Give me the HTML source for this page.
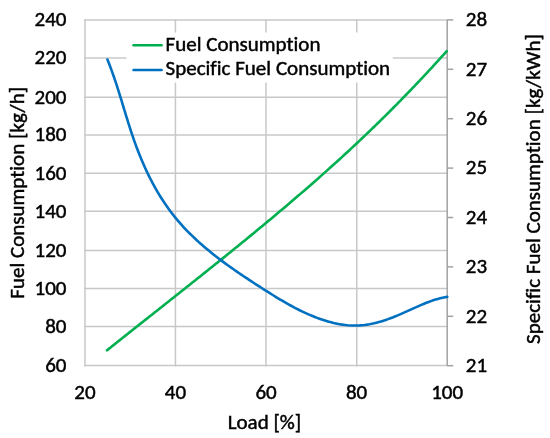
<!DOCTYPE html>
<html><head><meta charset="utf-8"><style>
html,body{margin:0;padding:0;background:#fff;overflow:hidden;}
svg{display:block;}
text{font-family:Carlito,"Liberation Sans",sans-serif;font-size:21px;fill:#000;stroke:#000;stroke-width:0.45px;font-variant-ligatures:none;font-feature-settings:'liga' 0,'clig' 0;}
</style></head><body>
<svg width="550" height="438" viewBox="0 0 550 438">
<rect width="550" height="438" fill="#fff"/>
<g stroke="#c8c8c8" stroke-width="1.5" fill="none" stroke-linecap="square">
<line x1="84.90" y1="19.90" x2="447.20" y2="19.90"/>
<line x1="84.90" y1="57.97" x2="447.20" y2="57.97"/>
<line x1="84.90" y1="97.25" x2="447.20" y2="97.25"/>
<line x1="84.90" y1="134.97" x2="447.20" y2="134.97"/>
<line x1="84.90" y1="173.25" x2="447.20" y2="173.25"/>
<line x1="84.90" y1="211.30" x2="447.20" y2="211.30"/>
<line x1="84.90" y1="250.44" x2="447.20" y2="250.44"/>
<line x1="84.90" y1="288.60" x2="447.20" y2="288.60"/>
<line x1="84.90" y1="326.60" x2="447.20" y2="326.60"/>
<line x1="84.90" y1="365.60" x2="447.20" y2="365.60"/>
<line x1="84.97" y1="19.90" x2="84.97" y2="365.70"/>
<line x1="175.44" y1="19.90" x2="175.44" y2="365.70"/>
<line x1="265.97" y1="19.90" x2="265.97" y2="365.70"/>
<line x1="356.75" y1="19.90" x2="356.75" y2="365.70"/>
</g>
<rect x="126.5" y="32.5" width="266.3" height="50" fill="#fff"/>
<g stroke="#a2a2a2" stroke-width="1.5">
<line x1="447.20" y1="19.90" x2="447.20" y2="365.70"/>
<line x1="447.20" y1="19.90" x2="453.20" y2="19.90"/>
<line x1="447.20" y1="69.30" x2="453.20" y2="69.30"/>
<line x1="447.20" y1="118.70" x2="453.20" y2="118.70"/>
<line x1="447.20" y1="168.10" x2="453.20" y2="168.10"/>
<line x1="447.20" y1="217.50" x2="453.20" y2="217.50"/>
<line x1="447.20" y1="266.90" x2="453.20" y2="266.90"/>
<line x1="447.20" y1="316.30" x2="453.20" y2="316.30"/>
<line x1="447.20" y1="365.70" x2="453.20" y2="365.70"/>
</g>
<path d="M107.01,350.31 L108.79,348.89 L110.57,347.47 L112.35,346.05 L114.13,344.63 L115.91,343.21 L117.69,341.79 L119.47,340.37 L121.25,338.96 L123.03,337.54 L124.82,336.12 L126.60,334.71 L128.39,333.29 L130.17,331.88 L131.95,330.46 L133.74,329.05 L135.52,327.63 L137.31,326.22 L139.10,324.80 L140.88,323.39 L142.67,321.97 L144.45,320.56 L146.24,319.14 L148.03,317.73 L149.82,316.32 L151.60,314.90 L153.39,313.49 L155.18,312.07 L156.96,310.66 L158.75,309.24 L160.54,307.83 L162.33,306.42 L164.11,305.00 L165.90,303.59 L167.69,302.17 L169.47,300.76 L171.26,299.34 L173.05,297.93 L174.84,296.51 L176.62,295.09 L178.41,293.68 L180.19,292.26 L181.98,290.84 L183.77,289.43 L185.55,288.01 L187.34,286.59 L189.12,285.17 L190.91,283.75 L192.69,282.34 L194.48,280.92 L196.26,279.50 L198.04,278.07 L199.83,276.65 L201.61,275.23 L203.39,273.81 L205.17,272.39 L206.95,270.96 L208.73,269.54 L210.51,268.11 L212.29,266.69 L214.07,265.26 L215.85,263.84 L217.63,262.41 L219.40,260.98 L221.18,259.55 L222.95,258.12 L224.73,256.69 L226.50,255.26 L228.28,253.83 L230.05,252.39 L231.82,250.96 L233.59,249.52 L235.36,248.09 L237.13,246.65 L238.90,245.21 L240.67,243.77 L242.44,242.33 L244.20,240.89 L245.97,239.45 L247.73,238.01 L249.49,236.56 L251.26,235.12 L253.02,233.67 L254.78,232.22 L256.54,230.77 L258.30,229.32 L260.05,227.87 L261.81,226.42 L263.56,224.97 L265.32,223.51 L267.07,222.06 L268.82,220.60 L270.57,219.14 L272.32,217.68 L274.07,216.22 L275.81,214.75 L277.56,213.29 L279.30,211.82 L281.04,210.36 L282.78,208.89 L284.52,207.42 L286.26,205.94 L288.00,204.47 L289.73,203.00 L291.47,201.52 L293.20,200.04 L294.93,198.56 L296.66,197.08 L298.39,195.60 L300.11,194.11 L301.84,192.62 L303.56,191.14 L305.28,189.65 L307.00,188.15 L308.72,186.66 L310.44,185.16 L312.15,183.67 L313.87,182.17 L315.58,180.66 L317.29,179.16 L318.99,177.66 L320.70,176.15 L322.40,174.64 L324.10,173.13 L325.80,171.61 L327.50,170.10 L329.20,168.58 L330.89,167.06 L332.58,165.54 L334.27,164.01 L335.96,162.49 L337.65,160.96 L339.33,159.43 L341.01,157.89 L342.69,156.36 L344.37,154.82 L346.04,153.28 L347.71,151.74 L349.39,150.19 L351.05,148.64 L352.72,147.09 L354.38,145.54 L356.04,143.99 L357.70,142.43 L359.36,140.87 L361.01,139.31 L362.66,137.74 L364.31,136.17 L365.96,134.60 L367.60,133.03 L369.25,131.46 L370.89,129.88 L372.52,128.30 L374.16,126.72 L375.79,125.13 L377.42,123.54 L379.05,121.95 L380.67,120.36 L382.30,118.76 L383.92,117.17 L385.53,115.56 L387.15,113.96 L388.76,112.36 L390.37,110.75 L391.98,109.14 L393.59,107.52 L395.19,105.91 L396.79,104.29 L398.39,102.66 L399.98,101.04 L401.58,99.41 L403.17,97.78 L404.76,96.15 L406.34,94.52 L407.93,92.88 L409.51,91.24 L411.09,89.60 L412.66,87.96 L414.24,86.31 L415.81,84.66 L417.38,83.01 L418.94,81.35 L420.51,79.70 L422.07,78.04 L423.63,76.37 L425.19,74.71 L426.74,73.04 L428.30,71.37 L429.85,69.70 L431.40,68.03 L432.94,66.35 L434.49,64.67 L436.03,62.99 L437.57,61.31 L439.10,59.62 L440.64,57.93 L442.17,56.24 L443.70,54.55 L445.23,52.85 L446.76,51.16" fill="none" stroke="#00b050" stroke-width="2.6" stroke-linecap="round" stroke-linejoin="round"/>
<path d="M107.40,59.51 L108.31,61.77 L109.20,64.03 L110.07,66.31 L110.93,68.59 L111.77,70.87 L112.59,73.17 L113.40,75.46 L114.20,77.77 L114.98,80.07 L115.75,82.38 L116.52,84.70 L117.27,87.02 L118.01,89.34 L118.75,91.67 L119.47,94.00 L120.20,96.33 L120.92,98.66 L121.63,100.99 L122.34,103.33 L123.05,105.66 L123.76,108.00 L124.47,110.34 L125.19,112.67 L125.90,115.01 L126.62,117.35 L127.34,119.68 L128.06,122.01 L128.80,124.34 L129.53,126.67 L130.28,129.00 L131.04,131.32 L131.80,133.64 L132.58,135.96 L133.37,138.27 L134.17,140.58 L134.99,142.88 L135.82,145.18 L136.67,147.47 L137.53,149.76 L138.41,152.04 L139.31,154.31 L140.22,156.58 L141.15,158.84 L142.10,161.09 L143.07,163.33 L144.05,165.57 L145.05,167.79 L146.07,170.01 L147.11,172.22 L148.17,174.41 L149.25,176.60 L150.34,178.77 L151.46,180.93 L152.59,183.08 L153.75,185.22 L154.93,187.35 L156.12,189.46 L157.34,191.56 L158.58,193.64 L159.84,195.71 L161.12,197.76 L162.42,199.80 L163.74,201.83 L165.09,203.83 L166.46,205.82 L167.85,207.80 L169.27,209.75 L170.70,211.69 L172.17,213.61 L173.65,215.51 L175.16,217.40 L176.69,219.26 L178.25,221.10 L179.83,222.93 L181.43,224.73 L183.05,226.52 L184.70,228.29 L186.37,230.04 L188.05,231.78 L189.76,233.50 L191.48,235.20 L193.23,236.88 L194.99,238.55 L196.77,240.20 L198.57,241.84 L200.38,243.46 L202.21,245.07 L204.05,246.66 L205.91,248.24 L207.78,249.81 L209.67,251.36 L211.57,252.90 L213.48,254.42 L215.41,255.94 L217.34,257.44 L219.29,258.93 L221.25,260.41 L223.21,261.87 L225.19,263.33 L227.17,264.77 L229.17,266.21 L231.17,267.63 L233.17,269.04 L235.19,270.45 L237.21,271.85 L239.23,273.23 L241.26,274.61 L243.29,275.98 L245.33,277.35 L247.37,278.70 L249.41,280.05 L251.46,281.39 L253.50,282.73 L255.55,284.06 L257.60,285.38 L259.65,286.70 L261.69,288.01 L263.74,289.32 L265.78,290.62 L267.83,291.92 L269.87,293.21 L271.92,294.49 L273.97,295.76 L276.02,297.02 L278.08,298.27 L280.15,299.51 L282.22,300.74 L284.30,301.95 L286.39,303.15 L288.49,304.33 L290.60,305.50 L292.73,306.64 L294.86,307.78 L297.01,308.89 L299.18,309.98 L301.36,311.05 L303.56,312.10 L305.77,313.12 L308.01,314.13 L310.26,315.10 L312.53,316.05 L314.82,316.97 L317.12,317.85 L319.44,318.70 L321.77,319.52 L324.11,320.29 L326.46,321.02 L328.82,321.70 L331.19,322.34 L333.57,322.93 L335.96,323.46 L338.35,323.94 L340.74,324.36 L343.14,324.72 L345.53,325.03 L347.93,325.26 L350.33,325.43 L352.73,325.53 L355.12,325.56 L357.51,325.51 L359.90,325.39 L362.28,325.20 L364.65,324.93 L367.02,324.60 L369.39,324.21 L371.74,323.76 L374.10,323.25 L376.44,322.68 L378.78,322.07 L381.11,321.40 L383.44,320.69 L385.75,319.93 L388.06,319.13 L390.36,318.30 L392.65,317.43 L394.94,316.53 L397.21,315.60 L399.48,314.65 L401.73,313.67 L403.98,312.67 L406.22,311.66 L408.46,310.64 L410.70,309.62 L412.93,308.60 L415.16,307.59 L417.40,306.58 L419.63,305.60 L421.88,304.64 L424.13,303.70 L426.38,302.79 L428.65,301.92 L430.92,301.10 L433.21,300.32 L435.51,299.59 L437.83,298.92 L440.17,298.31 L442.52,297.76 L444.90,297.29 L447.29,296.89" fill="none" stroke="#0070c0" stroke-width="2.6" stroke-linecap="round" stroke-linejoin="round"/>
<line x1="133.5" y1="45.3" x2="161.6" y2="45.3" stroke="#00b050" stroke-width="2.5" stroke-linecap="round"/>
<line x1="133.5" y1="69.9" x2="161.6" y2="69.9" stroke="#0070c0" stroke-width="2.5" stroke-linecap="round"/>
<text x="165.5" y="50.6" textLength="154.94" lengthAdjust="spacingAndGlyphs">Fuel Consumption</text>
<text x="165.5" y="75.3" textLength="224.63" lengthAdjust="spacingAndGlyphs">Specific Fuel Consumption</text>
<text x="66.5" y="371.90" text-anchor="end">60</text>
<text x="66.5" y="332.90" text-anchor="end">80</text>
<text x="66.5" y="294.90" text-anchor="end">100</text>
<text x="66.5" y="256.74" text-anchor="end">120</text>
<text x="66.5" y="217.60" text-anchor="end">140</text>
<text x="66.5" y="179.55" text-anchor="end">160</text>
<text x="66.5" y="141.27" text-anchor="end">180</text>
<text x="66.5" y="103.55" text-anchor="end">200</text>
<text x="66.5" y="64.27" text-anchor="end">220</text>
<text x="66.5" y="26.20" text-anchor="end">240</text>
<text x="84.90" y="399.3" text-anchor="middle">20</text>
<text x="175.48" y="399.3" text-anchor="middle">40</text>
<text x="266.05" y="399.3" text-anchor="middle">60</text>
<text x="356.62" y="399.3" text-anchor="middle">80</text>
<text x="447.20" y="399.3" text-anchor="middle">100</text>
<text x="465.8" y="371.90">21</text>
<text x="465.8" y="322.50">22</text>
<text x="465.8" y="273.10">23</text>
<text x="465.8" y="223.70">24</text>
<text x="465.8" y="174.30">25</text>
<text x="465.8" y="124.90">26</text>
<text x="465.8" y="75.50">27</text>
<text x="465.8" y="26.10">28</text>
<text x="264.5" y="428.7" text-anchor="middle" textLength="73.64" lengthAdjust="spacingAndGlyphs">Load [%]</text>
<text transform="translate(24,192.8) rotate(-90)" text-anchor="middle" textLength="211.89" lengthAdjust="spacingAndGlyphs">Fuel Consumption [kg/h]</text>
<text transform="translate(539.5,189) rotate(-90)" text-anchor="middle" textLength="309.80" lengthAdjust="spacingAndGlyphs">Specific Fuel Consumption [kg/kWh]</text>
</svg>
</body></html>
